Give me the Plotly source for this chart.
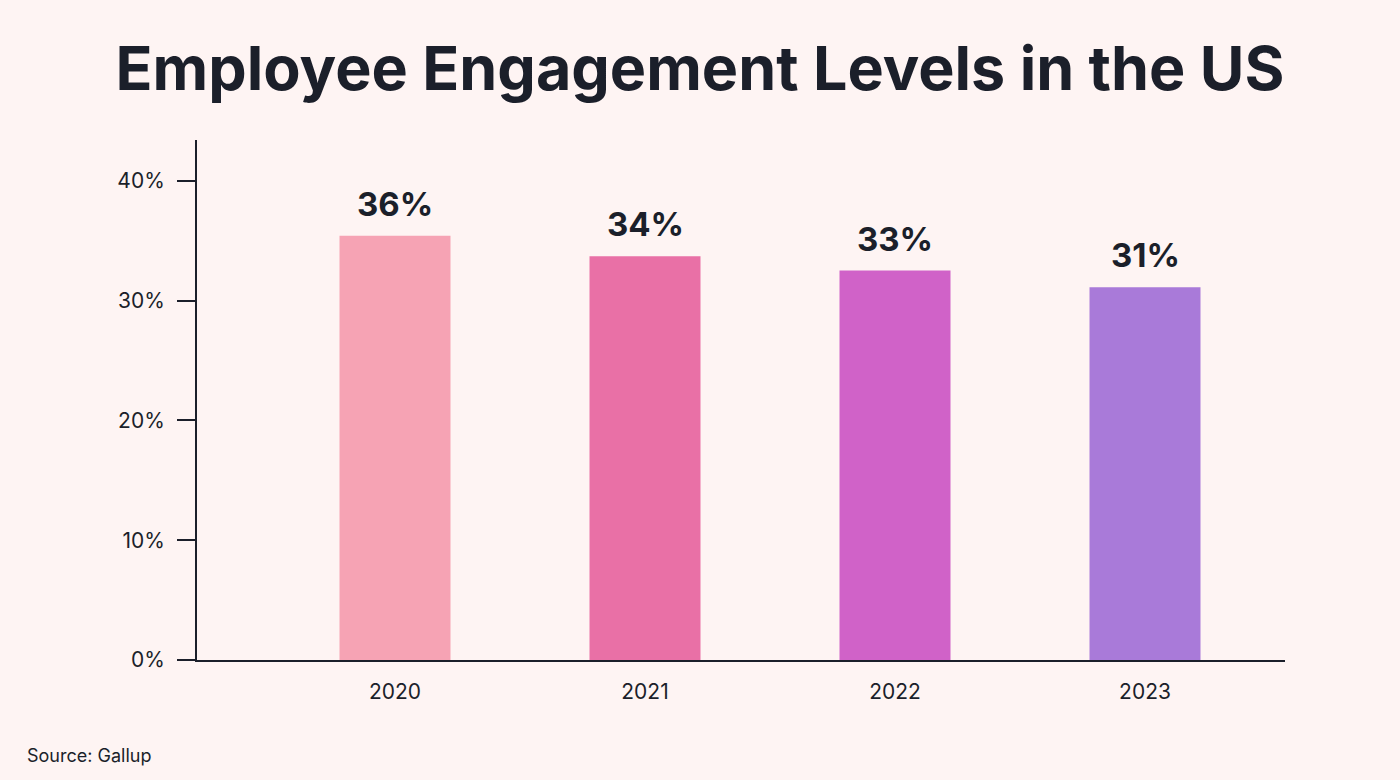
import plotly.graph_objects as go

# data
years = ["2020", "2021", "2022", "2023"]
engagement = [35.4, 33.7, 32.5, 31.1]
value_labels = ["36%", "34%", "33%", "31%"]
bar_colors = ["#F6A3B4", "#E970A6", "#D062C8", "#A97AD9"]
y_ticks = [0, 10, 20, 30, 40]
y_tick_labels = ["0%", "10%", "20%", "30%", "40%"]

ink = "#1B1F2A"
bg = "#FEF4F3"

fig = go.Figure()

fig.add_trace(go.Bar(
    x=years,
    y=engagement,
    width=0.444,
    marker=dict(color=bar_colors, line=dict(width=0)),
    hoverinfo="skip",
))

# etiquetas encima de cada barra (x por indice de categoria)
for i, (val, lab) in enumerate(zip(engagement, value_labels)):
    fig.add_annotation(
        x=i, y=val, text="<b>" + lab + "</b>", showarrow=False,
        yanchor="bottom", yshift=10,
        font=dict(family="Inter", size=33, color=ink),
    )

fig.add_annotation(
    text="Source: Gallup", xref="paper", yref="paper",
    x=-0.158, y=-0.183, xanchor="left", yanchor="middle",
    showarrow=False, font=dict(family="Inter", size=18, color=ink),
)

fig.update_layout(
    width=1400, height=780,
    paper_bgcolor=bg, plot_bgcolor=bg,
    margin=dict(l=197, r=115, t=140, b=120),
    title=dict(
        text="<b>Employee Engagement Levels in the US</b>",
        x=0.5, xanchor="center", y=0.912, yanchor="middle",
        font=dict(family="Inter", size=61, color=ink),
    ),
    showlegend=False,
    xaxis=dict(
        type="category", range=[-0.792, 3.56],
        showline=True, linecolor=ink, linewidth=2,
        ticks="", showgrid=False, ticklabelstandoff=12,
        tickfont=dict(family="Inter", size=21, color=ink),
    ),
    yaxis=dict(
        range=[0, 43.4], tickvals=y_ticks, ticktext=y_tick_labels,
        showline=True, linecolor=ink, linewidth=2,
        ticks="outside", ticklen=18, tickwidth=2, tickcolor=ink,
        showgrid=False, zeroline=False, ticklabelstandoff=8,
        tickfont=dict(family="Inter", size=21, color=ink),
    ),
)

fig.write_html("out.html", config={"displayModeBar": False},
               post_script="document.body.style.margin='0';")
